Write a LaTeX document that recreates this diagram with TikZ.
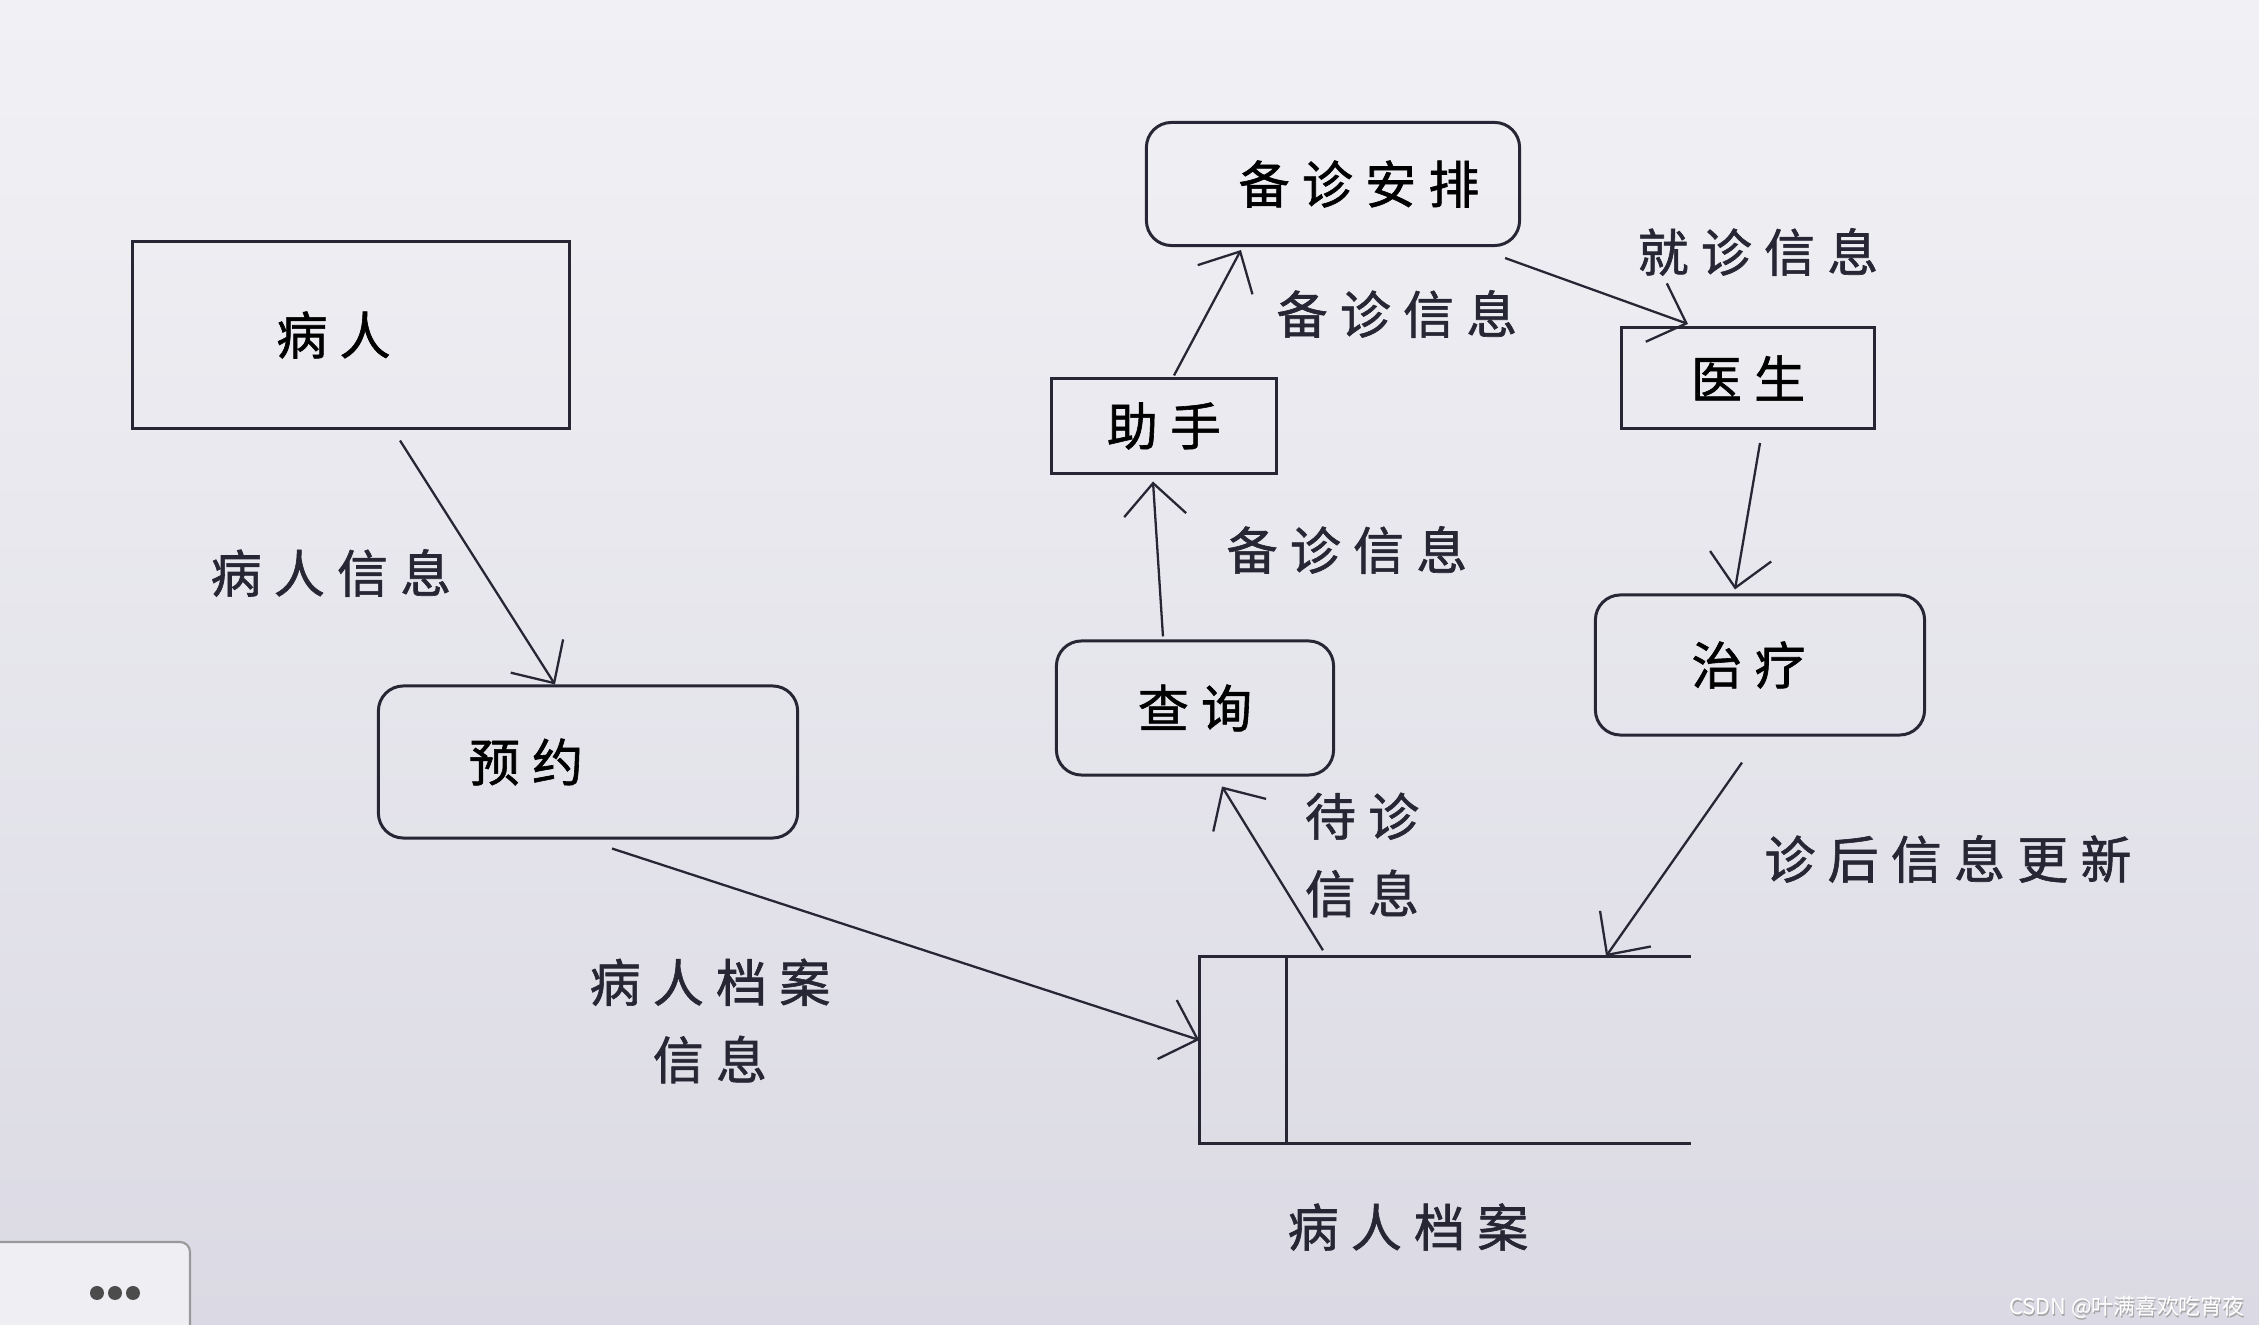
\documentclass[tikz,border=0pt]{standalone}
\usepackage{fontspec}
\setmainfont{Noto Sans CJK SC}[LetterSpace=24, FakeBold=1.2]
\newfontfamily\wmfont{Noto Sans CJK SC}
\usetikzlibrary{arrows.meta}

\definecolor{ink}{RGB}{38,38,52}
\definecolor{bgtop}{RGB}{241,241,245}
\definecolor{bgbot}{RGB}{219,218,228}

\tikzset{
  proc/.style = {draw=ink, line width=0.85pt, rounded corners=0.25cm, inner sep=0pt},
  ent/.style = {draw=ink, line width=0.85pt, inner sep=0pt},
  store/.style = {draw=ink, line width=0.85pt},
  flow/.style = {draw=ink, line width=0.65pt, -{Straight Barb[length=0.32cm,width=0.62cm]}},
  lab/.style = {text=ink, inner sep=0pt, align=center},
}

\begin{document}
\begin{tikzpicture}[x=0.01cm, y=-0.01cm, font=\fontsize{14.5pt}{22pt}\selectfont]
    \useasboundingbox (0,0) rectangle (2259,1325);
    \shade[top color=bgtop, bottom color=bgbot] (0,0) rectangle (2259,1325);

    % entities and processes
    \node[ent, minimum width=4.36cm, minimum height=1.86cm] (bingren) at (351,335) {\hspace*{-0.35cm}病人};
    \node[proc, minimum width=4.19cm, minimum height=1.52cm] (yuyue) at (588,762) {\hspace*{-1.24cm}预约};
    \node[proc, minimum width=3.73cm, minimum height=1.23cm] (anpai) at (1333,184) {\hspace*{0.52cm}备诊安排};
    \node[ent, minimum width=2.24cm, minimum height=0.94cm] (zhushou) at (1164,426) {助手};
    \node[proc, minimum width=2.77cm, minimum height=1.34cm] (chaxun) at (1195,708) {查询};
    \node[ent, minimum width=2.52cm, minimum height=1.01cm] (yisheng) at (1748,378) {医生};
    \node[proc, minimum width=3.29cm, minimum height=1.40cm] (zhiliao) at (1760,665) {\hspace*{-0.23cm}治疗};

    % data store
    \node[minimum width=4.90cm, minimum height=1.86cm, inner sep=0pt] (dangan) at (1445,1050) {};
    \draw[store] (dangan.north east) -- (dangan.north west) -- (dangan.south west) -- (dangan.south east);
    \draw[store] ([xshift=0.87cm]dangan.north west) -- ([xshift=0.87cm]dangan.south west);
    \node[lab] (dangan-t) at (1408,1227) {病人档案};

    % flows
    \draw[flow] ([xshift=0.49cm,yshift=-0.11cm]bingren.south) -- ([xshift=-0.33cm]yuyue.north);
    \draw[flow] ([xshift=0.24cm,yshift=-0.09cm]yuyue.south) -- ([yshift=0.10cm]dangan.west);
    \draw[flow] ([xshift=-1.22cm,yshift=0.06cm]dangan.north) -- ([xshift=0.27cm,yshift=-0.10cm]chaxun.south);
    \draw[flow] ([xshift=-0.32cm,yshift=0.03cm]chaxun.north) -- ([xshift=-0.11cm,yshift=-0.07cm]zhushou.south);
    \draw[flow] ([xshift=0.10cm,yshift=0.02cm]zhushou.north) -- ([xshift=-0.92cm,yshift=-0.03cm]anpai.south);
    \draw[flow] ([xshift=1.72cm,yshift=-0.11cm]anpai.south) -- ([xshift=-0.60cm,yshift=0.02cm]yisheng.north);
    \draw[flow] ([xshift=0.12cm,yshift=-0.13cm]yisheng.south) -- ([xshift=-0.25cm,yshift=0.04cm]zhiliao.north);
    \draw[flow] ([xshift=-0.18cm,yshift=-0.26cm]zhiliao.south) -- ([xshift=1.61cm]dangan.north);

    % flow labels
    \node[lab] (l-brxx) at (331,573) {病人信息};
    \node[lab] (l-dagxx) at (710,1021) {病人档案\\信息};
    \node[lab] (l-bzxx1) at (1397,314) {备诊信息};
    \node[lab] (l-jzxx) at (1758,252) {就诊信息};
    \node[lab] (l-bzxx2) at (1347,550) {备诊信息};
    \node[lab] (l-dzxx) at (1362,855) {待诊\\信息};
    \node[lab] (l-zhgx) at (1948,859) {诊后信息更新};

    % screen bits
    \draw[draw=black!40, fill=white!55!bgbot, line width=0.6pt, rounded corners=0.1cm]
      (-20,1242) -- (190,1242) -- (190,1360) -- (-20,1360);
    \foreach \dx in {97,115,133}
      \fill[black!70] (\dx,1293) circle (7);
    \node[text=black!35, anchor=east, inner sep=0pt, font=\wmfont\fontsize{6.2pt}{8pt}\selectfont] (wm-s) at (2246,1309) {CSDN @叶满喜欢吃宵夜};
    \node[text=white, anchor=east, inner sep=0pt, font=\wmfont\fontsize{6.2pt}{8pt}\selectfont] (wm) at (2245,1307) {CSDN @叶满喜欢吃宵夜};
\end{tikzpicture}
\end{document}
